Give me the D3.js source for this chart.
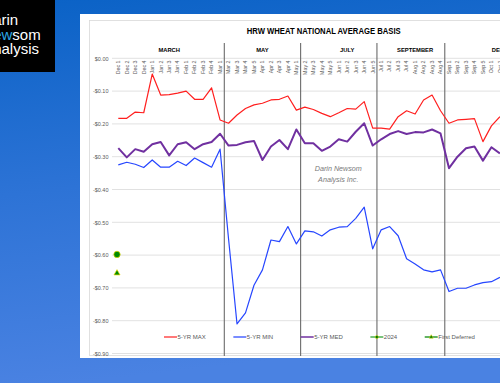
<!DOCTYPE html>
<meta charset="utf-8">
<style>
body { margin: 0; }
svg { display: block; }
text { font-family: "Liberation Sans", Arial, sans-serif; }
.grid line { stroke: #d9d9d9; stroke-width: 0.8px; }
.ylab text, .xlab text, .legend text { fill: #595959; }
.sep line { stroke: #6b6b6b; stroke-width: 1.1px; }
.series path { fill: none; stroke-linejoin: round; }
</style>
<svg width="500" height="383"></svg>
<script src="https://d3js.org/d3.v7.min.js"></script>
<script>

// weekly categories (only part of the chart is on screen)
var weeks = ["Dec 1","Dec 2","Dec 3","Dec 4","Jan 1","Jan 2","Jan 3","Jan 4","Feb 1","Feb 2","Feb 3","Feb 4","Mar 1",
  "Mar 2","Mar 3","Mar 4","Mar 5","Apr 1","Apr 2","Apr 3","Apr 4","May 1",
  "May 2","May 3","May 4","May 5","Jun 1","Jun 2","Jun 3","Jun 4","Jun 5",
  "Jul 1","Jul 2","Jul 3","Jul 4","Aug 1","Aug 2","Aug 3","Aug 4",
  "Sep 1","Sep 2","Sep 3","Sep 4","Sep 5","Oct 1","Oct 2","Oct 3"];

var maxBasis = [-0.183,-0.183,-0.164,-0.166,-0.048,-0.112,-0.111,-0.106,-0.100,-0.125,-0.125,-0.090,-0.188,
  -0.198,-0.173,-0.153,-0.142,-0.137,-0.127,-0.125,-0.115,-0.158,
  -0.149,-0.156,-0.168,-0.178,-0.166,-0.153,-0.155,-0.132,-0.213,
  -0.213,-0.216,-0.178,-0.160,-0.170,-0.127,-0.112,-0.160,
  -0.198,-0.188,-0.186,-0.184,-0.254,-0.206,-0.178];

var minBasis = [-0.325,-0.317,-0.323,-0.333,-0.310,-0.332,-0.332,-0.314,-0.327,-0.304,-0.318,-0.332,-0.277,
  -0.550,-0.810,-0.776,-0.692,-0.645,-0.554,-0.559,-0.513,-0.566,
  -0.526,-0.529,-0.542,-0.523,-0.515,-0.513,-0.488,-0.454,-0.581,
  -0.523,-0.513,-0.541,-0.611,-0.627,-0.645,-0.651,-0.645,
  -0.711,-0.701,-0.701,-0.691,-0.684,-0.681,-0.668];

var medBasis = [-0.274,-0.302,-0.277,-0.285,-0.262,-0.255,-0.296,-0.262,-0.256,-0.277,-0.262,-0.255,-0.230,
  -0.266,-0.264,-0.256,-0.252,-0.310,-0.269,-0.249,-0.277,-0.217,
  -0.259,-0.259,-0.282,-0.269,-0.247,-0.254,-0.224,-0.198,-0.266,
  -0.247,-0.231,-0.222,-0.231,-0.225,-0.226,-0.217,-0.229,
  -0.335,-0.300,-0.274,-0.269,-0.312,-0.271,-0.290];

var basis2024 = [-0.598];
var firstDeferred = [-0.655];

// last week of each contract section, and the week each section title sits over
var contractEnds = ["Mar 1","May 1","Jun 5","Aug 4"];
var contracts = ["MARCH","MAY","JULY","SEPTEMBER","DECEMBER"];
var contractLabelWeek = ["Jan 3","Apr 1","Jun 2","Aug 1","Oct 3"];

var yTicks = [0,-0.1,-0.2,-0.3,-0.4,-0.5,-0.6,-0.7,-0.8,-0.9];

var svg = d3.select("svg"),
    width = +svg.attr("width"),
    height = +svg.attr("height");

var step = 8.48,
    firstX = 118.3;

var x = d3.scalePoint()
    .domain(weeks)
    .range([firstX, firstX + step * (weeks.length - 1)]);

var y = d3.scaleLinear()
    .domain([0, -0.9])
    .range([58.3, 353.5]);

// page background + logo
var defs = svg.append("defs");
var grad = defs.append("linearGradient")
    .attr("id", "bg")
    .attr("x1", 0).attr("y1", 0).attr("x2", 0.15).attr("y2", 1);
grad.append("stop").attr("offset", 0).attr("stop-color", "#0a62c6");
grad.append("stop").attr("offset", 0.5).attr("stop-color", "#2d73d6");
grad.append("stop").attr("offset", 1).attr("stop-color", "#4a82e2");

svg.append("rect")
    .attr("width", width).attr("height", height)
    .attr("fill", "url(#bg)");

svg.append("rect")
    .attr("x", 0).attr("y", 0).attr("width", 55).attr("height", 72)
    .attr("fill", "#000");

var logo = svg.append("g")
    .style("font-family", "Lato, 'Open Sans', sans-serif")
    .style("font-size", "15px")
    .attr("fill", "#fff");

var logoLines = [["Da", "rin", ""], ["Ne", "w", "som"], ["An", "alysis", ""]];
logoLines.forEach(function(l, i) {
  var t = logo.append("text").attr("y", 25 + i * 14.5);
  var hidden = t.append("tspan").text(l[0]);
  var off = hidden.node().getComputedTextLength();
  t.attr("x", 1.5 - off);
  if (i == 1) {
    hidden.attr("fill", "#2aa6e6");
    t.append("tspan").attr("fill", "#2aa6e6").text(l[1]);
  } else {
    t.append("tspan").text(l[1]);
  }
  t.append("tspan").text(l[2]);
});

// white chart card
svg.append("rect")
    .attr("x", 80).attr("y", 14).attr("width", 430).attr("height", 344)
    .attr("fill", "#fff");
svg.append("rect")
    .attr("x", 89.5).attr("y", 20.5).attr("width", 430).attr("height", 335)
    .attr("fill", "none").attr("stroke", "#d9d9d9").attr("stroke-width", 0.8);

svg.append("text")
    .attr("x", 323.7).attr("y", 34)
    .attr("text-anchor", "middle")
    .attr("textLength", 154).attr("lengthAdjust", "spacingAndGlyphs")
    .style("font-size", "9px").style("font-weight", "bold")
    .attr("fill", "#000")
    .text("HRW WHEAT NATIONAL AVERAGE BASIS");

// gridlines
svg.append("g")
    .attr("class", "grid")
  .selectAll("line")
  .data(yTicks)
  .enter().append("line")
    .attr("x1", 112).attr("x2", width)
    .attr("y1", function(d) { return y(d); })
    .attr("y2", function(d) { return y(d); });

// y labels
var yAxis = svg.append("g")
    .attr("class", "ylab")
    .attr("transform", "translate(108.5,0)")
    .call(d3.axisLeft(y)
      .tickValues(yTicks)
      .tickSize(0)
      .tickPadding(0)
      .tickFormat(function(d) { return d === 0 ? "$0.00" : "-$" + Math.abs(d).toFixed(2); }));
yAxis.select(".domain").remove();
yAxis.selectAll("text")
    .style("font-family", "'Liberation Sans', Arial, sans-serif")
    .style("font-size", "5.5px");

// rotated week labels under the zero line
svg.append("g")
    .attr("class", "xlab")
  .selectAll("text")
  .data(weeks)
  .enter().append("text")
    .attr("transform", function(d) { return "translate(" + (x(d) + 1.8) + ",60.5) rotate(-90)"; })
    .attr("text-anchor", "end")
    .style("font-size", "5.3px")
    .text(function(d) { return d; });

// contract separators + titles
svg.append("g")
    .attr("class", "sep")
  .selectAll("line")
  .data(contractEnds)
  .enter().append("line")
    .attr("x1", function(d) { return x(d) + step / 2; })
    .attr("x2", function(d) { return x(d) + step / 2; })
    .attr("y1", 43).attr("y2", 356);

svg.append("g")
  .selectAll("text")
  .data(contracts)
  .enter().append("text")
    .attr("x", function(d, i) { return x(contractLabelWeek[i]); })
    .attr("y", 51.5)
    .attr("text-anchor", "middle")
    .style("font-size", "5.8px").style("font-weight", "bold")
    .attr("fill", "#000")
    .text(function(d) { return d; });

// watermark
svg.append("g")
    .style("font-family", "'DejaVu Serif', 'Liberation Serif', serif")
    .style("font-style", "italic")
    .style("font-size", "7.2px")
    .attr("fill", "#7a7a7a")
  .selectAll("text")
  .data(["Darin Newsom", "Analysis Inc."])
  .enter().append("text")
    .attr("x", 338.3)
    .attr("y", function(d, i) { return 171 + i * 11; })
    .attr("text-anchor", "middle")
    .text(function(d) { return d; });

// series
var line = d3.line()
    .x(function(d, i) { return x(weeks[i]); })
    .y(function(d) { return y(d); });

var series = [
  {name: "5-YR MAX", values: maxBasis, color: "#ff1f1f", w: 1.2},
  {name: "5-YR MIN", values: minBasis, color: "#2646ff", w: 1.2},
  {name: "5-YR MED", values: medBasis, color: "#7030a0", w: 2}
];

svg.append("g")
    .attr("class", "series")
  .selectAll("path")
  .data(series)
  .enter().append("path")
    .attr("stroke", function(d) { return d.color; })
    .attr("stroke-width", function(d) { return d.w; })
    .attr("d", function(d) { return line(d.values); });

var tri = d3.symbol().type(d3.symbolTriangle);

svg.append("g").selectAll("circle")
  .data(basis2024)
  .enter().append("circle")
    .attr("cx", function(d, i) { return x(weeks[i]) - 1.3; })
    .attr("cy", function(d) { return y(d); })
    .attr("r", 3.2)
    .attr("fill", "#008a00").attr("stroke", "#e8d800").attr("stroke-width", 0.7);

svg.append("g").selectAll("path")
  .data(firstDeferred)
  .enter().append("path")
    .attr("transform", function(d, i) { return "translate(" + (x(weeks[i]) - 1.3) + "," + y(d) + ")"; })
    .attr("d", tri.size(16))
    .attr("fill", "#008a00").attr("stroke", "#e8d800").attr("stroke-width", 0.7);

// legend
var legendItems = [
  {name: "5-YR MAX", color: "#ff4d4d", w: 1.5},
  {name: "5-YR MIN", color: "#4d66ff", w: 1.5},
  {name: "5-YR MED", color: "#7030a0", w: 1.5},
  {name: "2024", color: "#4caf50", w: 1.5, marker: "circle"},
  {name: "First Deferred", color: "#2e9a2e", w: 1.5, marker: "triangle"}
];

var legend = svg.append("g").attr("class", "legend");
var lx = 164, ly = 337;
legendItems.forEach(function(d) {
  var g = legend.append("g").attr("transform", "translate(" + lx + "," + ly + ")");
  g.append("line")
      .attr("x1", 0).attr("x2", 13)
      .attr("stroke", d.color).attr("stroke-width", d.w);
  if (d.marker == "circle") {
    g.append("circle").attr("cx", 6.5).attr("r", 1.6)
        .attr("fill", "#007a00").attr("stroke", "#e8d800").attr("stroke-width", 0.5);
  } else if (d.marker == "triangle") {
    g.append("path").attr("transform", "translate(6.5,0)")
        .attr("d", tri.size(7))
        .attr("fill", "#007a00").attr("stroke", "#e8d800").attr("stroke-width", 0.5);
  }
  var t = g.append("text")
      .attr("x", 13.5).attr("y", 2)
      .style("font-size", "6px")
      .text(d.name);
  lx += 13.5 + t.node().getComputedTextLength() + 27.5;
});

</script>
